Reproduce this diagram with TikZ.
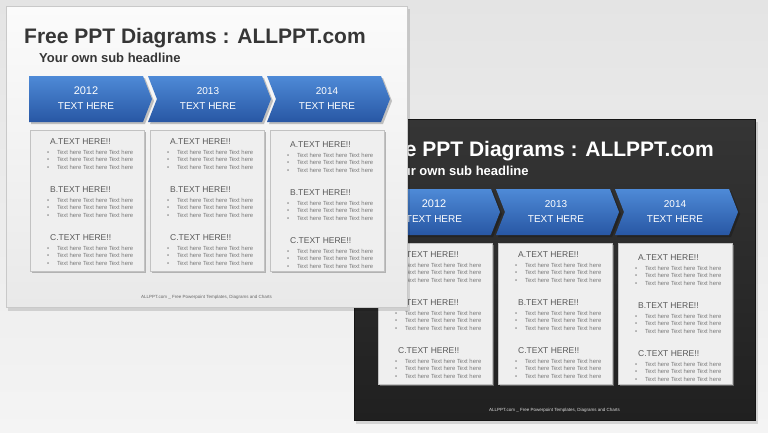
\documentclass[tikz,border=0pt]{standalone}
\usepackage{fontspec}
\setmainfont{Liberation Sans}
\usepackage{xcolor}
\definecolor{pagetop}{HTML}{E4E4E4}
\definecolor{pagebot}{HTML}{F4F4F4}
\definecolor{bluetop}{HTML}{4E8AD7}
\definecolor{bluebot}{HTML}{2857A4}
\definecolor{boxgray}{HTML}{EFEFEF}
\definecolor{boxline}{HTML}{C2C2C2}
\definecolor{headgray}{HTML}{585858}
\definecolor{itemgray}{HTML}{7A7A7A}
\definecolor{lighttop}{HTML}{FBFBFB}
\definecolor{lightbot}{HTML}{E9E9E9}
\definecolor{lightline}{HTML}{C9C9C9}
\definecolor{darktop}{HTML}{353535}
\definecolor{darkbot}{HTML}{202020}
\definecolor{darkline}{HTML}{151515}
\definecolor{titlegray}{HTML}{363636}
\definecolor{footgray}{HTML}{666666}
\definecolor{footlight}{HTML}{DDDDDD}

\tikzset{
  chevron/.style={top color=bluetop, bottom color=bluebot, draw=none},
  infobox/.style={fill=boxgray, draw=boxline, line width=0.4pt},
  boxhead/.style={anchor=west, inner sep=0pt, text=headgray, font=\fontsize{8.5}{9}\selectfont},
  boxitem/.style={anchor=west, inner sep=0pt, text=itemgray, font=\fontsize{5.9}{7}\selectfont},
  chevtext/.style={text=white, inner sep=0pt},
}

% one slide: name, shift, top colour, bottom colour, title colour, footer colour, frame colour
\newcommand{\drawslide}[7]{%
  \begin{scope}[shift={#2}]
    % slide shadow
    \fill[black, opacity=0.13] (2,3) rectangle (404,305);
    % slide
    \draw[#7, line width=0.5pt, top color=#3, bottom color=#4] (0,0) rectangle (401,301);
    % headlines
    \node[anchor=base west, inner sep=0pt, text=#5, font=\bfseries\fontsize{21}{24}\selectfont] (#1title) at (18,37) {Free PPT Diagrams : ALLPPT.com};
    \node[anchor=base west, inner sep=0pt, text=#5, font=\bfseries\fontsize{13}{15}\selectfont] (#1sub) at (33,56) {Your own sub headline};
    % chevrons
    \foreach \i/\yr/\fs/\n in {0/2012/11/0, 1/2013/10/9, 2/2014/10/9} {
      \pgfmathsetmacro{\xa}{23+119*\i}
      \fill[black, opacity=0.22] (\xa+2,72) -- (\xa+116,72) -- (\xa+125,95) -- (\xa+116,118) -- (\xa+2,118) -- (\xa+2+\n,95) -- cycle;
      \path[chevron] (\xa,70) -- (\xa+114,70) -- (\xa+123,93) -- (\xa+114,116) -- (\xa,116) -- (\xa+\n,93) -- cycle;
      \node[chevtext, font=\fontsize{\fs}{12}\selectfont] (#1yr\i) at (\xa+57+\n/3,85) {\yr};
      \node[chevtext, font=\fontsize{10}{12}\selectfont] (#1lab\i) at (\xa+57+\n/3,100) {TEXT HERE};
    }
    % text boxes
    \foreach \i/\dy in {0/0, 1/0, 2/3} {
      \pgfmathsetmacro{\xb}{24+120*\i}
      \fill[black!45, opacity=0.6] (\xb+2,126) rectangle (\xb+116,267);
      \path[infobox] (\xb,124) rectangle (\xb+114,265);
      \foreach \s/\sy in {A/0, B/48, C/96} {
        \node[boxhead] (#1h\i\s) at (\xb+20,136+\sy+\dy) {\s.TEXT HERE!!};
        \foreach \k/\ky in {1/22, 2/29.5, 3/37}
          \node[boxitem] (#1t\i\s\k) at (\xb+17,124+\ky+\sy+\dy) {\makebox[10pt][l]{•}Text here Text here Text here};
      }
    }
    % footer
    \node[inner sep=0pt, text=#6, font=\fontsize{4.5}{5}\selectfont] (#1foot) at (200.5,291) {ALLPPT.com \_ Free Powerpoint Templates, Diagrams and Charts};
  \end{scope}}

\begin{document}
\begin{tikzpicture}[x=1pt, y=-1pt]
  % page
  \useasboundingbox (0,0) rectangle (768,432);
  \fill[top color=pagetop, bottom color=pagebot] (0,0) rectangle (768,432);
  % dark slide behind
  \drawslide{dk}{(354,119)}{darktop}{darkbot}{white}{footlight}{darkline}
  % light slide in front
  \drawslide{lt}{(6,6)}{lighttop}{lightbot}{titlegray}{footgray}{lightline}
\end{tikzpicture}
\end{document}
